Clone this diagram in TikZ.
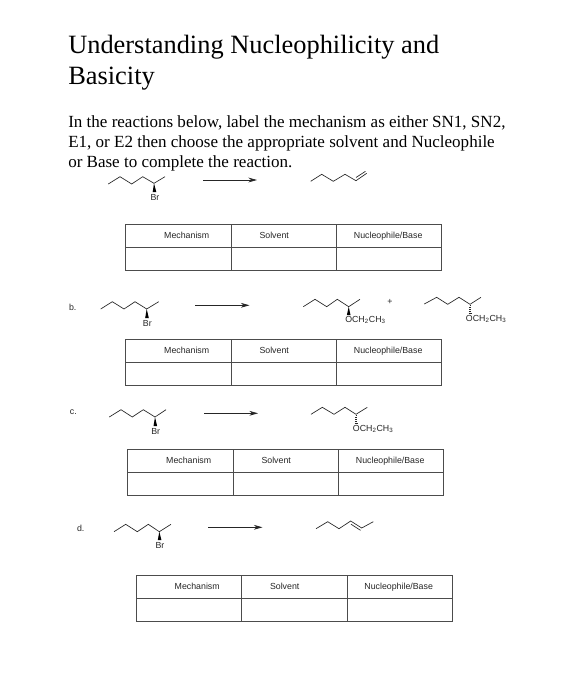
\documentclass[tikz,border=0pt]{standalone}
\usepackage{fontspec}
\setmainfont{Liberation Serif}
\newfontfamily\lab{Liberation Sans}
\usetikzlibrary{arrows.meta,calc}
\tikzset{
  bond/.style={line width=0.5pt,draw=black!85,line join=miter},
  rxnarrow/.style={line width=0.55pt,draw=black!85,-{Stealth[length=6.5pt,width=3.6pt]}},
  cell/.style={line width=0.8pt,draw=black!70},
  small/.style={font=\lab\fontsize{6.6}{8}\selectfont,text=black!85,inner sep=0pt},
  head/.style={font=\lab\fontsize{6.6}{8}\selectfont,text=black!85,inner sep=0pt,text height=5pt,text depth=1.4pt},
  para/.style={inner sep=0pt,anchor=north west,align=left,text=black}
}
% wedge: #1 from, #2 to
\newcommand{\solidwedge}[2]{\fill[black] (#1) -- ($(#2)+(-1.8,0)$) -- ($(#2)+(1.8,0)$) -- cycle;}
\newcommand{\hashwedge}[2]{\foreach \t/\w in {0.1/0.3,0.3/0.6,0.5/0.9,0.7/1.2,0.9/1.5}{
  \draw[line width=0.4pt,black!85] ($(#1)!\t!(#2)+(-\w,0)$) -- ($(#1)!\t!(#2)+(\w,0)$);}}
% table: #1 name, #2 left x, #3 top y (widths and heights are shared)
\newcommand{\answertable}[3]{
  \begin{scope}[shift={(#2,#3)}]
    \coordinate (#1tl) at (0,0);
    \coordinate (#1br) at (316,46);
    \draw[cell] (#1tl) rectangle (#1br);
    \draw[cell] (0,23) -- (316,23);
    \draw[cell] (105.5,0) -- (105.5,46);
    \draw[cell] (211,0) -- (211,46);
    \node[head] (#1m) at (61,11.5) {Mechanism};
    \node[head] (#1s) at (148.5,11.5) {Solvent};
    \node[head] (#1n) at (262.5,11.5) {Nucleophile/Base};
  \end{scope}
}
\begin{document}
\begin{tikzpicture}[x=0.75pt,y=-0.75pt]
\useasboundingbox[fill=white] (0,0) rectangle (578,700);

\node[para,font=\fontsize{19.8}{23.3}\selectfont] (title) at (68,34.5)
  {Understanding Nucleophilicity and\\Basicity};
\node[para,font=\fontsize{12.77}{15}\selectfont] (intro) at (68,115)
  {In the reactions below, label the mechanism as either SN1, SN2,\\
   E1, or E2 then choose the appropriate solvent and Nucleophile\\
   or Base to complete the reaction.};

% ---- a
\draw[bond] (108.3,184) -- (120,176.7) -- (131.7,184) -- (142.7,176.7) -- (154,183.3) -- (165,176.7);
\node[small] (bra) at (155,197) {Br};
\solidwedge{154,183.3}{154.5,192}
\coordinate (a1) at (203,180); \coordinate (a2) at (257,180);
\draw[rxnarrow] (a1) -- (a2);
\draw[bond] (310.7,181.3) -- (321.7,174.3) -- (333.3,181.3) -- (345,174.3) -- (356,180.7) -- (366.7,173.3);
\draw[bond] (356,177.5) -- (365.5,171.3);
\answertable{ta}{125.7}{224.3}

% ---- b
\node[small] (lb) at (72.7,307.7) {b.};
\draw[bond] (100.7,309) -- (112.3,301.7) -- (124,309) -- (135,301.7) -- (146.7,309) -- (158.7,301.7);
\node[small] (brb) at (147.3,323.3) {Br};
\solidwedge{146.7,309}{147,318}
\coordinate (b1) at (195,305.3); \coordinate (b2) at (249.5,305.3);
\draw[rxnarrow] (b1) -- (b2);
\draw[bond] (303.3,306.7) -- (315,299.3) -- (326.7,306.7) -- (337.3,299.3) -- (348.7,306.7) -- (360,299.3);
\solidwedge{348.7,306.7}{348.7,315}
\node[small,anchor=base west] (ob1) at (345,322.3) {OCH\textsubscript{2}CH\textsubscript{3}};
\node[small] (plus) at (390,302.3) {+};
\draw[bond] (424.3,304) -- (436.7,297.3) -- (447.7,304.3) -- (459,297.3) -- (470,304.3) -- (481,297.3);
\hashwedge{470,304.3}{470,314}
\node[small,anchor=base west] (ob2) at (465.7,321.6) {OCH\textsubscript{2}CH\textsubscript{3}};
\answertable{tb}{125.7}{339.3}

% ---- c
\node[small] (lc) at (73.3,412.3) {c.};
\draw[bond] (109.3,417) -- (121,409.7) -- (132.3,417) -- (143.3,409.7) -- (155,417) -- (166,409.7);
\node[small] (brc) at (155.7,431) {Br};
\solidwedge{155,417}{155.3,426}
\coordinate (c1) at (204,413.3); \coordinate (c2) at (258,413.3);
\draw[rxnarrow] (c1) -- (c2);
\draw[bond] (311,414.3) -- (322.3,407.3) -- (334,414.3) -- (345,407.3) -- (356,414.3) -- (367.3,407.3);
\hashwedge{356,414.3}{356,424}
\node[small,anchor=base west] (oc) at (352.7,431) {OCH\textsubscript{2}CH\textsubscript{3}};
\answertable{tc}{127.7}{449.3}

% ---- d
\node[small] (ld) at (80.7,528.3) {d.};
\draw[bond] (114,531.7) -- (125.7,524.3) -- (137.3,531.7) -- (148.3,524.3) -- (159.3,531.7) -- (171,524.3);
\node[small] (brd) at (160,545) {Br};
\solidwedge{159.3,531.7}{159.6,540}
\coordinate (d1) at (208.3,527.3); \coordinate (d2) at (262.5,527.3);
\draw[rxnarrow] (d1) -- (d2);
\draw[bond] (316,528.7) -- (327.7,521.7) -- (339,528.7) -- (350.7,521) -- (361.7,528) -- (373.3,521.7);
\draw[bond] (351,524.2) -- (360.5,530.3);
\answertable{td}{136.2}{575.7}
\end{tikzpicture}
\end{document}
